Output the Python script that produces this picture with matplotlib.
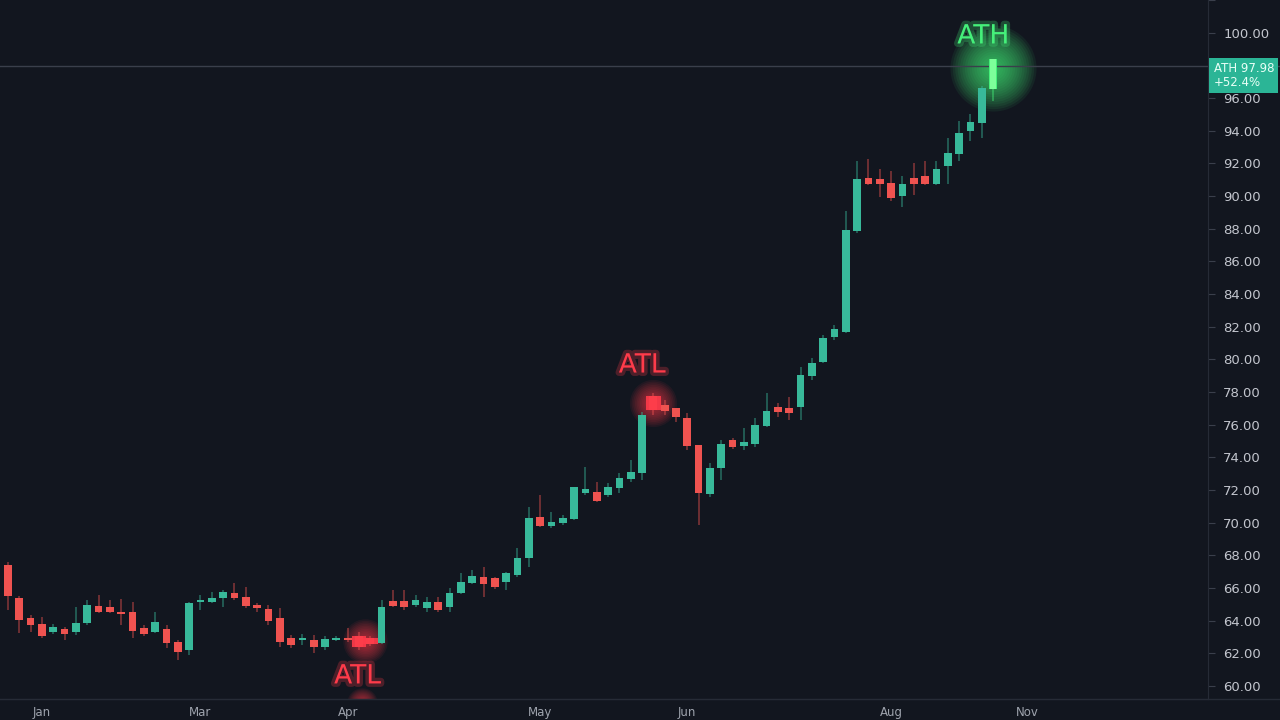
import numpy as np
import matplotlib.pyplot as plt
import matplotlib.patheffects as pe
import matplotlib.transforms as mtransforms
from matplotlib.lines import Line2D

# Candle data
opens = [67.40, 65.38, 64.16, 63.79, 63.30, 63.49, 63.30, 63.85, 64.89, 64.83,
         64.53, 64.53, 63.55, 63.30, 63.49, 62.69, 62.20, 65.14, 65.14, 65.38,
         65.69, 65.44, 64.95, 64.71, 64.16, 62.94, 62.81, 62.81, 62.39, 62.81,
         62.87, 63.06, 62.94, 62.63, 65.20, 65.20, 64.95, 64.77, 65.14, 64.83,
         65.69, 66.30, 66.67, 66.61, 66.36, 66.79, 67.83, 70.34, 69.79, 69.97,
         70.21, 71.80, 71.86, 71.68, 72.11, 72.66, 73.03, 77.74, 77.19, 77.00,
         76.39, 74.74, 71.74, 73.33, 75.05, 74.68, 74.80, 75.90, 77.06, 77.00,
         77.06, 78.96, 79.82, 81.34, 81.65, 87.83, 91.13, 91.07, 90.82, 89.97,
         91.13, 91.25, 90.76, 91.86, 92.60, 94.00, 94.49, 96.57]
highs = [67.58, 65.50, 64.34, 64.22, 63.79, 63.61, 64.83, 65.26, 65.57, 65.26,
         65.32, 65.14, 63.73, 64.53, 63.73, 62.81, 65.14, 65.57, 65.75, 65.87,
         66.30, 66.05, 65.08, 64.95, 64.77, 63.12, 63.18, 63.12, 63.06, 63.06,
         63.55, 63.30, 63.06, 65.26, 65.87, 65.87, 65.57, 65.44, 65.44, 65.99,
         66.91, 67.09, 67.28, 66.67, 66.97, 68.44, 70.95, 71.68, 70.64, 70.46,
         72.20, 73.39, 72.48, 72.42, 73.03, 73.82, 76.76, 77.92, 77.49, 77.00,
         76.70, 74.74, 73.64, 75.05, 75.17, 75.78, 76.39, 77.92, 77.31, 77.68,
         79.51, 80.06, 81.47, 82.08, 89.11, 92.17, 92.29, 91.68, 91.56, 91.25,
         92.05, 92.17, 92.17, 93.58, 94.62, 95.04, 96.76, 98.41]
lows = [64.65, 63.24, 63.30, 62.94, 63.18, 62.81, 63.12, 63.73, 64.46, 64.46,
        63.73, 62.94, 63.06, 63.25, 62.32, 61.59, 61.90, 64.65, 65.08, 64.83,
        65.26, 64.77, 64.53, 63.73, 62.39, 62.32, 62.51, 62.02, 62.20, 62.75,
        62.69, 62.20, 62.45, 62.57, 64.83, 64.65, 64.83, 64.53, 64.53, 64.53,
        65.63, 66.24, 65.44, 65.93, 65.87, 66.67, 67.28, 69.72, 69.66, 69.85,
        70.15, 71.68, 71.25, 71.56, 71.80, 72.48, 72.60, 76.57, 76.57, 76.15,
        74.43, 69.85, 71.56, 72.60, 74.49, 74.43, 74.62, 75.84, 76.45, 76.27,
        76.27, 78.71, 79.75, 81.16, 81.59, 87.71, 90.70, 89.91, 89.72, 89.30,
        90.03, 90.70, 90.70, 90.76, 92.17, 93.39, 93.58, 95.84]
closes = [65.50, 64.04, 63.73, 63.06, 63.61, 63.18, 63.85, 64.95, 64.53, 64.53,
          64.40, 63.36, 63.18, 63.91, 62.63, 62.08, 65.08, 65.26, 65.38, 65.75,
          65.38, 64.89, 64.77, 63.98, 62.69, 62.51, 62.94, 62.39, 62.87, 62.94,
          62.81, 62.39, 62.57, 64.83, 64.89, 64.83, 65.26, 65.14, 64.65, 65.69,
          66.36, 66.73, 66.24, 66.05, 66.91, 67.83, 70.27, 69.79, 70.03, 70.27,
          72.17, 72.05, 71.31, 72.17, 72.72, 73.09, 76.57, 76.88, 76.82, 76.45,
          74.68, 71.80, 73.33, 74.80, 74.62, 74.92, 75.96, 76.82, 76.76, 76.70,
          79.02, 79.75, 81.28, 81.83, 87.89, 91.07, 90.76, 90.76, 89.85, 90.76,
          90.76, 90.76, 91.68, 92.66, 93.88, 94.56, 96.63, 98.41]

atl_low_idx = 31
atl_top_idx = 57
ath_idx = 87
ath_line = 97.98

month_idx = [3, 17, 30, 47, 60, 78, 90]
month_labels = ["Jan", "Mar", "Apr", "May", "Jun", "Aug", "Nov"]
price_ticks = np.arange(60, 103, 2)

bg = "#12161f"
up = "#38b99a"
down = "#ef5350"
ath_green = "#45f07a"
atl_red = "#ff3b4a"
grid_c = "#262b36"

fig = plt.figure(figsize=(12.8, 7.2), dpi=100, facecolor=bg)
ax = fig.add_axes([0, 21 / 720, 1208 / 1280, 699 / 720], facecolor=bg)

x = np.arange(len(opens))
o = np.array(opens)
c = np.array(closes)
h = np.array(highs)
l = np.array(lows)
is_up = c >= o
cols = np.where(is_up, up, down)
cols[ath_idx] = ath_green


def glow(xv, yv, color, size, n=14, alpha=0.07, dy=0):
    tr = mtransforms.offset_copy(ax.transData, fig=fig, y=dy, units='points')
    for k in range(n):
        s = (size * (1 - k / n)) ** 2
        ax.scatter([xv], [yv], s=s, color=color, alpha=alpha, lw=0,
                   zorder=1, transform=tr)


# glows behind the highlighted candles
glow(atl_low_idx + 0.5, (o[atl_low_idx] + c[atl_low_idx]) / 2, atl_red, 32)
glow(atl_low_idx + 0.3, l[atl_low_idx], atl_red, 22, dy=-38)
glow(atl_top_idx, (o[atl_top_idx] + c[atl_top_idx]) / 2, atl_red, 34)
glow(ath_idx, h[ath_idx] - 0.6, ath_green, 62, n=18, alpha=0.07)

# candles
ax.vlines(x, l, h, colors=cols, linewidth=1.3, alpha=0.45, zorder=2)
body = np.abs(c - o)
body = np.maximum(body, 0.12)
ax.bar(x, body, bottom=np.minimum(o, c), width=0.68, color=cols,
       linewidth=0, zorder=3)
# brighter bodies for the marked candles
for i in (atl_low_idx, atl_low_idx + 1, atl_top_idx):
    ax.bar(i, max(abs(c[i] - o[i]), 0.12), bottom=min(o[i], c[i]), width=1.3,
           color=atl_red, linewidth=0, zorder=3, alpha=0.9)
ax.bar(ath_idx, c[ath_idx] - o[ath_idx], bottom=o[ath_idx], width=0.45,
       color="#7dff9a", linewidth=0, zorder=4)

# ATH reference line across the whole width
ax.plot([0, 1.06], [ath_line, ath_line], color="#3a3f4b", lw=1.0,
        transform=mtransforms.blended_transform_factory(ax.transAxes, ax.transData),
        clip_on=False, zorder=1)

# labels
ax.annotate("ATL", xy=(atl_low_idx, l[atl_low_idx]), xytext=(-1, -19),
            textcoords="offset points", ha="center", va="center",
            fontsize=19, color=atl_red, zorder=6,
            path_effects=[pe.withStroke(linewidth=5, foreground=atl_red, alpha=0.25)])
ax.annotate("ATL", xy=(atl_top_idx, h[atl_top_idx]), xytext=(-8, 20),
            textcoords="offset points", ha="center", va="center",
            fontsize=19, color=atl_red, zorder=6,
            path_effects=[pe.withStroke(linewidth=5, foreground=atl_red, alpha=0.25)])
ax.annotate("ATH", xy=(ath_idx, h[ath_idx]), xytext=(-7, 16),
            textcoords="offset points", ha="center", va="center",
            fontsize=19, color=ath_green, zorder=6,
            path_effects=[pe.withStroke(linewidth=5, foreground=ath_green, alpha=0.25)])

# price tag on the right axis (it covers the 98.00 tick label)
ax.annotate(f"ATH {ath_line:.2f}\n+52.4%", xy=(1, ath_line),
            xycoords=("axes fraction", "data"), xytext=(4, -7),
            textcoords="offset points", ha="left", va="center",
            fontsize=8.5, color="#e8fff6", linespacing=1.1, zorder=7,
            annotation_clip=False,
            bbox=dict(boxstyle="square,pad=0.35", fc="#2bb596", ec="none"))

# axes
ax.set_xlim(-0.707, 105.99)
ax.set_ylim(59.20, 101.96)
ax.yaxis.tick_right()
ax.set_yticks(price_ticks)
ax.set_yticklabels([f"{v:.2f}" if v not in (98, 102) else "" for v in price_ticks])
ax.tick_params(axis="y", colors="#c3c6ce", labelsize=9.5, length=5,
               width=0.8, pad=6, color="#3a3f4b")
ax.set_xticks(month_idx)
ax.set_xticklabels(month_labels)
ax.tick_params(axis="x", colors="#9ea3ad", labelsize=8.5, length=0, pad=5)
for s in ["top", "left"]:
    ax.spines[s].set_visible(False)
ax.spines["right"].set_color(grid_c)
ax.spines["bottom"].set_color(grid_c)
fig.add_artist(Line2D([0, 1], [21 / 720, 21 / 720], color=grid_c, lw=1,
                      transform=fig.transFigure))

fig.savefig("out.png", dpi=100, facecolor=bg)
